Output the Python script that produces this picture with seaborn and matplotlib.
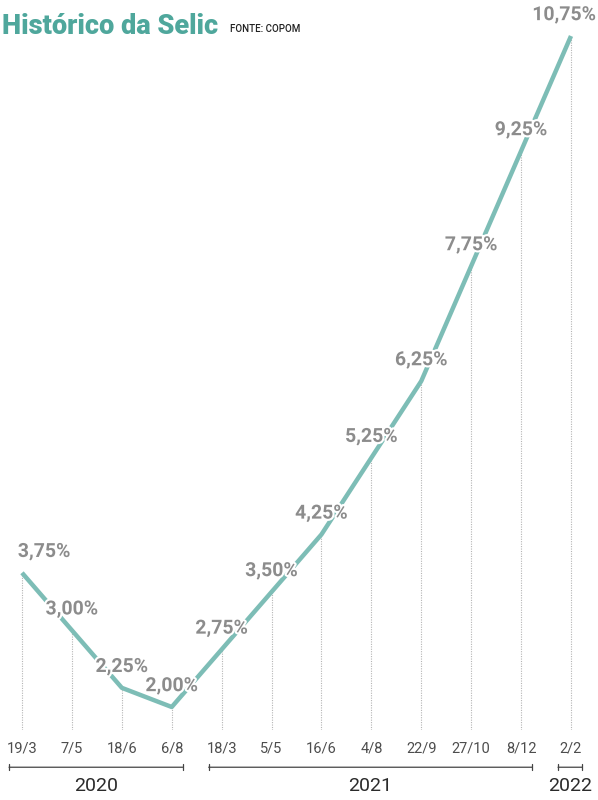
import pandas as pd
import matplotlib.pyplot as plt
import matplotlib.patheffects as pe
import seaborn as sns

# Selic meetings and rates
datas = ['19/3', '7/5', '18/6', '6/8', '18/3', '5/5', '16/6', '4/8', '22/9', '27/10', '8/12', '2/2']
selic = [3.75, 3.00, 2.25, 2.00, 2.75, 3.50, 4.25, 5.25, 6.25, 7.75, 9.25, 10.75]
anos = ['2020', '2020', '2020', '2020', '2021', '2021', '2021', '2021', '2021', '2021', '2021', '2022']

df = pd.DataFrame({'data': datas, 'selic': selic, 'ano': anos})
df['pos'] = range(len(df))

sns.set_style('white')
plt.rcParams['font.family'] = ['Roboto', 'DejaVu Sans']

fig = plt.figure(figsize=(5.98, 8), dpi=100)
ax = fig.add_axes([0, 70 / 800, 1, 730 / 800])

teal = '#7dbdb6'
cinza = '#8c8c8c'

# dotted guides
ymin = 1.70
ax.vlines(df['pos'], ymin, df['selic'], colors='#b5b5b5', linestyles=(0, (1, 1.2)), linewidth=0.8)

sns.lineplot(data=df, x='pos', y='selic', color=teal, linewidth=3.2, ax=ax,
             solid_capstyle='butt', zorder=3)

# value labels
last = len(df) - 1
for i, row in df.iterrows():
    txt = f"{row['selic']:.2f}".replace('.', ',') + '%'
    dx, ha = 0, 'center'
    if i == 0:
        dx, ha = -3, 'left'
    elif i == last:
        dx, ha = 18, 'right'
    ax.annotate(txt, (row['pos'], row['selic']), xytext=(dx, 15), textcoords='offset points',
                ha=ha, va='center', fontsize=14, fontweight='bold', color=cinza, zorder=4,
                path_effects=[pe.withStroke(linewidth=3, foreground='white')])

ax.set_xlim(-22 / 49.9, 11 + 27 / 49.9)
ax.set_ylim(ymin, 10.75 + 36 / 76.7)
ax.axis('off')

# date labels and year brackets below
trans = ax.get_xaxis_transform()
for i, d in enumerate(datas):
    ax.text(i, -0.025, d, transform=trans, ha='center', va='center', fontsize=10.5,
            color='#4d4d4d')

for ano, grp in df.groupby('ano'):
    a, b = grp['pos'].min() - 0.26, grp['pos'].max() + 0.22
    ax.annotate('', xy=(a, -0.051), xytext=(b, -0.051), xycoords=trans, textcoords=trans,
                arrowprops=dict(arrowstyle='|-|, widthA=0.2, widthB=0.2', color='#444444', lw=0.9,
                                shrinkA=0, shrinkB=0), annotation_clip=False)
    ax.text((a + b) / 2, -0.077, ano, transform=trans, ha='center', va='center', fontsize=14,
            color='#2b2b2b')

fig.text(0.003, 0.9665, 'Histórico da Selic', fontsize=19.5, fontweight='heavy', color='#4fa79c',
         va='center', ha='left')
fig.text(0.385, 0.964, 'FONTE: COPOM', fontsize=7, fontweight='medium', color='#222222',
         va='center', ha='left')

fig.savefig('out.png', dpi=100)
